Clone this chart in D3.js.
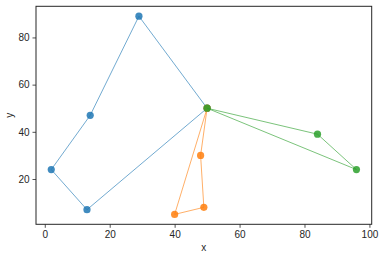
<!DOCTYPE html>
<html>
<head>
<meta charset="utf-8">
<script src="https://cdn.jsdelivr.net/npm/d3@7"></script>
<style>
  body { margin: 0; background: #fff; }
  svg { display: block; }
  .tick text { font-family: "Liberation Sans", Arial, sans-serif; font-size: 10px; fill: #262626; }
  .label { font-family: "Liberation Sans", Arial, sans-serif; font-size: 10px; fill: #262626; }
</style>
</head>
<body>
<svg width="383" height="258"></svg>
<script>
// each group is a closed loop through the shared point (50, 50)
const groupNames = ["A", "B", "C"];
const groupColors = ["#1f77b4", "#ff7f0e", "#2ca02c"];
const xsA = [50, 29, 14, 2, 13];
const ysA = [50, 89, 47, 24, 7];
const xsB = [50, 48, 49, 40];
const ysB = [50, 30, 8, 5];
const xsC = [50, 84, 96];
const ysC = [50, 39, 24];
const xTicks = [0, 20, 40, 60, 80, 100];
const yTicks = [20, 40, 60, 80];

const groups = [
    {name: groupNames[0], xs: xsA, ys: ysA},
    {name: groupNames[1], xs: xsB, ys: ysB},
    {name: groupNames[2], xs: xsC, ys: ysC}
];

const svg = d3.select("svg");
const area = {left: 36, right: 371.7, top: 6.3, bottom: 224.3};

const scX = d3.scaleLinear().domain([-2.7, 100.7]).range([area.left, area.right]);
const scY = d3.scaleLinear().domain([0.8, 93.2]).range([area.bottom, area.top]);

// axes
svg.append("g")
    .attr("transform", `translate(0, ${area.bottom})`)
    .call(d3.axisBottom(scX).tickValues(xTicks).tickSize(3.5).tickPadding(3).tickSizeOuter(0))
    .call(g => g.select(".domain").remove());

svg.append("g")
    .attr("transform", `translate(${area.left}, 0)`)
    .call(d3.axisLeft(scY).tickValues(yTicks).tickSize(3.5).tickPadding(3).tickSizeOuter(0))
    .call(g => g.select(".domain").remove());

svg.selectAll(".tick line").attr("stroke", "#262626").attr("stroke-width", 0.8);

const line = d3.line().x(d => scX(d[0])).y(d => scY(d[1]));

groups.forEach((grp, i) => {
    const pts = grp.xs.map((x, j) => [x, grp.ys[j]]);
    const loop = pts.concat([pts[0]]);

    svg.append("path")
        .datum(loop)
        .attr("d", line)
        .attr("fill", "none")
        .attr("stroke", groupColors[i])
        .attr("stroke-opacity", 0.7)
        .attr("stroke-width", 0.9);

    svg.selectAll(".dot-" + grp.name)
        .data(pts)
        .enter()
        .append("circle")
        .attr("class", "dot-" + grp.name)
        .attr("cx", d => scX(d[0]))
        .attr("cy", d => scY(d[1]))
        .attr("r", 3.6)
        .style("fill", groupColors[i])
        .style("fill-opacity", 0.85);
});

// frame
svg.append("rect")
    .attr("x", area.left)
    .attr("y", area.top)
    .attr("width", area.right - area.left)
    .attr("height", area.bottom - area.top)
    .attr("fill", "none")
    .attr("stroke", "#262626")
    .attr("stroke-width", 1);

svg.append("text")
    .attr("class", "label")
    .attr("x", (area.left + area.right) / 2)
    .attr("y", 251)
    .attr("text-anchor", "middle")
    .text("x");

svg.append("text")
    .attr("class", "label")
    .attr("transform", `translate(13, ${(area.top + area.bottom) / 2}) rotate(-90)`)
    .attr("text-anchor", "middle")
    .text("y");
</script>
</body>
</html>
